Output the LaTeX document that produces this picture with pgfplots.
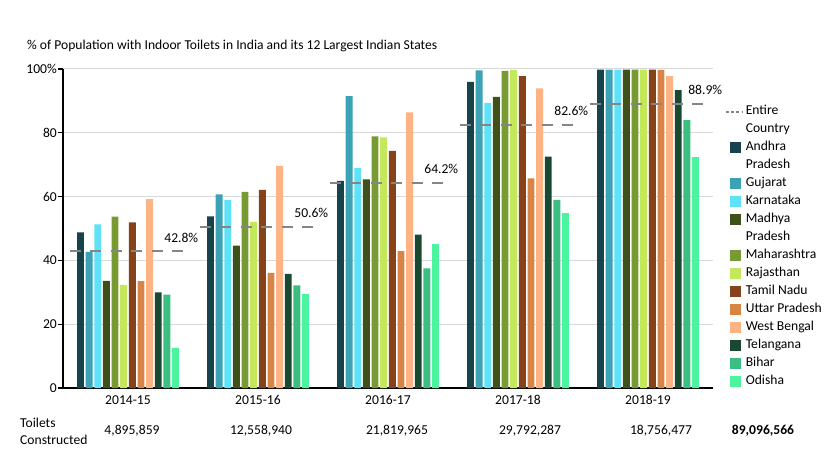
\documentclass[border=0pt]{standalone}
\usepackage{pgfplots}
\pgfplotsset{compat=1.18}
\usepackage{fontspec}
\setmainfont{Carlito}
\definecolor{cAP}{HTML}{16444A}
\definecolor{cGJ}{HTML}{3BA3B5}
\definecolor{cKA}{HTML}{5DE2F7}
\definecolor{cMP}{HTML}{3E5119}
\definecolor{cMH}{HTML}{789A32}
\definecolor{cRJ}{HTML}{C3E85B}
\definecolor{cTN}{HTML}{86431A}
\definecolor{cUP}{HTML}{D98447}
\definecolor{cWB}{HTML}{FDB384}
\definecolor{cTG}{HTML}{1A4932}
\definecolor{cBR}{HTML}{3ABF80}
\definecolor{cOD}{HTML}{4BF5A0}
\definecolor{cLine}{HTML}{858585}
\pgfplotsset{
  bars/.style n args={2}{ybar, bar width=0.053, bar shift=#2, fill=#1, draw=none,
    legend image code/.code={\fill[#1] (0pt,-5.5pt) rectangle (11pt,5.5pt);}},
  avg/.style={sharp plot, no marks, forget plot, color=cLine, line width=2pt, dash pattern=on 11pt off 9.5pt},
}
\newcommand{\fs}{\fontsize{13.6}{16}\selectfont}
\begin{document}
\begin{tikzpicture}
\path[use as bounding box] (0pt,0pt) rectangle (840pt,464pt);
\node[anchor=west, inner sep=0pt, font=\fs] at (27pt,418pt) {\% of Population with Indoor Toilets in India and its 12 Largest Indian States};
\node[anchor=west, inner sep=0pt, align=left, font=\fontsize{13.6}{17}\selectfont] at (20pt,33pt) {Toilets\\Constructed};
\node[font=\fs] at (132pt,33pt) {4,895,859};
\node[font=\fs] at (261pt,33pt) {12,558,940};
\node[font=\fs] at (397pt,33pt) {21,819,965};
\node[font=\fs] at (530pt,33pt) {29,792,287};
\node[font=\fs] at (661pt,33pt) {18,756,477};
\node[font=\fs\bfseries] at (763pt,33pt) {89,096,566};
\begin{axis}[
  at={(63pt,76pt)}, anchor=south west,
  scale only axis, width=650pt, height=319pt,
  xmin=-0.5, xmax=4.5, ymin=0, ymax=100,
  axis x line*=bottom, axis y line*=left,
  x axis line style={-, black, line width=1.3pt},
  y axis line style={-, black, line width=1.3pt},
  xtick={0,1,2,3,4},
  xticklabels={2014-15,2015-16,2016-17,2017-18,2018-19},
  x tick style={draw=none},
  ytick={0,20,40,60,80,100},
  yticklabels={0,20,40,60,80,100\%},
  y tick style={black, line width=1.2pt},
  tick align=outside, major tick length=5pt,
  ymajorgrids, grid style={color=black!15, line width=1pt},
  ticklabel style={font=\fs},
  yticklabel style={inner sep=1pt},
  xticklabel style={inner sep=2pt},
  /pgf/number format/assume math mode=true,
  clip=false,
  legend cell align=left,
  legend style={at={(1,1)}, anchor=north west, xshift=12pt, yshift=-36pt,
    draw=none, fill=none, inner sep=0pt, font=\fs, row sep=5pt, column sep=3pt,
    nodes={inner sep=0pt, text height=9.5pt, text depth=3.5pt}},
]
\addlegendimage{legend image code/.code={\draw[cLine, line width=1.6pt, dash pattern=on 3pt off 2.2pt] (-4pt,0pt) -- (12pt,0pt);}}
\addlegendentry{Entire}
\addlegendimage{empty legend}
\addlegendentry{Country}
\addplot[bars={cAP}{-0.36575}] coordinates {(0,48.8)(1,53.8)(2,64.9)(3,96.0)(4,99.8)};
\addlegendentry{Andhra}
\addlegendimage{empty legend}
\addlegendentry{Pradesh}
\addplot[bars={cGJ}{-0.29925}] coordinates {(0,42.7)(1,60.7)(2,91.5)(3,99.6)(4,99.8)};
\addlegendentry{Gujarat}
\addplot[bars={cKA}{-0.23275}] coordinates {(0,51.3)(1,58.9)(2,69.0)(3,89.4)(4,99.8)};
\addlegendentry{Karnataka}
\addplot[bars={cMP}{-0.16625}] coordinates {(0,33.6)(1,44.6)(2,65.4)(3,91.3)(4,99.8)};
\addlegendentry{Madhya}
\addlegendimage{empty legend}
\addlegendentry{Pradesh}
\addplot[bars={cMH}{-0.09975}] coordinates {(0,53.7)(1,61.5)(2,78.9)(3,99.4)(4,99.8)};
\addlegendentry{Maharashtra}
\addplot[bars={cRJ}{-0.03325}] coordinates {(0,32.3)(1,52.1)(2,78.6)(3,99.7)(4,99.8)};
\addlegendentry{Rajasthan}
\addplot[bars={cTN}{0.03325}] coordinates {(0,51.9)(1,62.1)(2,74.3)(3,97.8)(4,99.8)};
\addlegendentry{Tamil Nadu}
\addplot[bars={cUP}{0.09975}] coordinates {(0,33.5)(1,36.1)(2,42.9)(3,65.7)(4,99.7)};
\addlegendentry{Uttar Pradesh}
\addplot[bars={cWB}{0.16625}] coordinates {(0,59.2)(1,69.6)(2,86.4)(3,93.9)(4,97.8)};
\addlegendentry{West Bengal}
\addplot[bars={cTG}{0.23275}] coordinates {(0,30.0)(1,35.8)(2,48.1)(3,72.5)(4,93.4)};
\addlegendentry{Telangana}
\addplot[bars={cBR}{0.29925}] coordinates {(0,29.3)(1,32.2)(2,37.5)(3,59.0)(4,84.0)};
\addlegendentry{Bihar}
\addplot[bars={cOD}{0.36575}] coordinates {(0,12.6)(1,29.4)(2,45.1)(3,54.8)(4,72.4)};
\addlegendentry{Odisha}
\addplot[avg] coordinates {(-0.45,42.8)(0.45,42.8)};
\addplot[avg] coordinates {(0.55,50.6)(1.45,50.6)};
\addplot[avg] coordinates {(1.55,64.2)(2.45,64.2)};
\addplot[avg] coordinates {(2.55,82.6)(3.45,82.6)};
\addplot[avg] coordinates {(3.55,88.9)(4.45,88.9)};
\node[font=\fs, yshift=14pt] at (axis cs:0.41,42.8) {42.8\%};
\node[font=\fs, yshift=14pt] at (axis cs:1.41,50.6) {50.6\%};
\node[font=\fs, yshift=14pt] at (axis cs:2.41,64.2) {64.2\%};
\node[font=\fs, yshift=14pt] at (axis cs:3.41,82.6) {82.6\%};
\node[font=\fs, yshift=14pt] at (axis cs:4.44,88.9) {88.9\%};
\end{axis}
\end{tikzpicture}
\end{document}
